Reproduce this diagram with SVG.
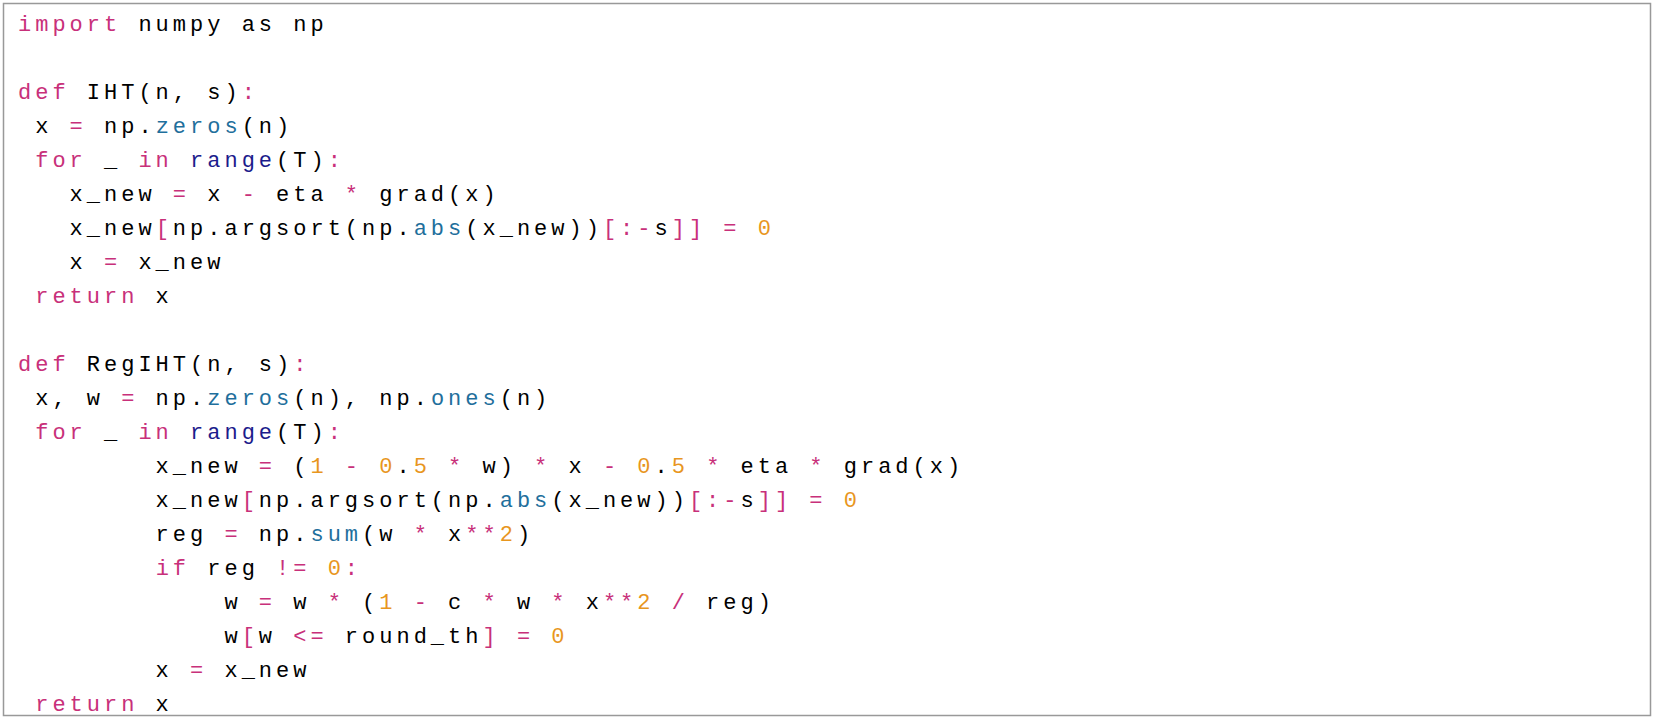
<svg xmlns="http://www.w3.org/2000/svg" width="1654" height="721" viewBox="0 0 1654 721">
<style>
text{font-family:"Liberation Mono","DejaVu Sans Mono",monospace;font-size:22px;letter-spacing:4px;fill:#000;white-space:pre}
.k{fill:#c8307a}.n{fill:#e8961e}.f{fill:#1f6f9c}.b{fill:#1c1c8c}
</style>
<rect width="1654" height="721" fill="#fff"/>
<rect x="3.5" y="3.5" width="1647" height="712" fill="none" stroke="#999" stroke-width="1.5"/>
<g id="code" xml:space="preserve">
<text x="18" y="31"><tspan class="k">import</tspan> numpy as np</text>
<text x="18" y="99"><tspan class="k">def</tspan> IHT(n, s)<tspan class="k">:</tspan></text>
<text x="18" y="133"> x <tspan class="k">=</tspan> np.<tspan class="f">zeros</tspan>(n)</text>
<text x="18" y="167"> <tspan class="k">for</tspan> _ <tspan class="k">in</tspan> <tspan class="b">range</tspan>(T)<tspan class="k">:</tspan></text>
<text x="18" y="201">   x_new <tspan class="k">=</tspan> x <tspan class="k">-</tspan> eta <tspan class="k">*</tspan> grad(x)</text>
<text x="18" y="235">   x_new<tspan class="k">[</tspan>np.argsort(np.<tspan class="f">abs</tspan>(x_new))<tspan class="k">[:-</tspan>s<tspan class="k">]]</tspan> <tspan class="k">=</tspan> <tspan class="n">0</tspan></text>
<text x="18" y="269">   x <tspan class="k">=</tspan> x_new</text>
<text x="18" y="303"> <tspan class="k">return</tspan> x</text>
<text x="18" y="371"><tspan class="k">def</tspan> RegIHT(n, s)<tspan class="k">:</tspan></text>
<text x="18" y="405"> x, w <tspan class="k">=</tspan> np.<tspan class="f">zeros</tspan>(n), np.<tspan class="f">ones</tspan>(n)</text>
<text x="18" y="439"> <tspan class="k">for</tspan> _ <tspan class="k">in</tspan> <tspan class="b">range</tspan>(T)<tspan class="k">:</tspan></text>
<text x="18" y="473">        x_new <tspan class="k">=</tspan> (<tspan class="n">1</tspan> <tspan class="k">-</tspan> <tspan class="n">0</tspan>.<tspan class="n">5</tspan> <tspan class="k">*</tspan> w) <tspan class="k">*</tspan> x <tspan class="k">-</tspan> <tspan class="n">0</tspan>.<tspan class="n">5</tspan> <tspan class="k">*</tspan> eta <tspan class="k">*</tspan> grad(x)</text>
<text x="18" y="507">        x_new<tspan class="k">[</tspan>np.argsort(np.<tspan class="f">abs</tspan>(x_new))<tspan class="k">[:-</tspan>s<tspan class="k">]]</tspan> <tspan class="k">=</tspan> <tspan class="n">0</tspan></text>
<text x="18" y="541">        reg <tspan class="k">=</tspan> np.<tspan class="f">sum</tspan>(w <tspan class="k">*</tspan> x<tspan class="k">**</tspan><tspan class="n">2</tspan>)</text>
<text x="18" y="575">        <tspan class="k">if</tspan> reg <tspan class="k">!=</tspan> <tspan class="n">0</tspan><tspan class="k">:</tspan></text>
<text x="18" y="609">            w <tspan class="k">=</tspan> w <tspan class="k">*</tspan> (<tspan class="n">1</tspan> <tspan class="k">-</tspan> c <tspan class="k">*</tspan> w <tspan class="k">*</tspan> x<tspan class="k">**</tspan><tspan class="n">2</tspan> <tspan class="k">/</tspan> reg)</text>
<text x="18" y="643">            w<tspan class="k">[</tspan>w <tspan class="k">&lt;=</tspan> round_th<tspan class="k">]</tspan> <tspan class="k">=</tspan> <tspan class="n">0</tspan></text>
<text x="18" y="677">        x <tspan class="k">=</tspan> x_new</text>
<text x="18" y="711"> <tspan class="k">return</tspan> x</text>
</g>
</svg>
